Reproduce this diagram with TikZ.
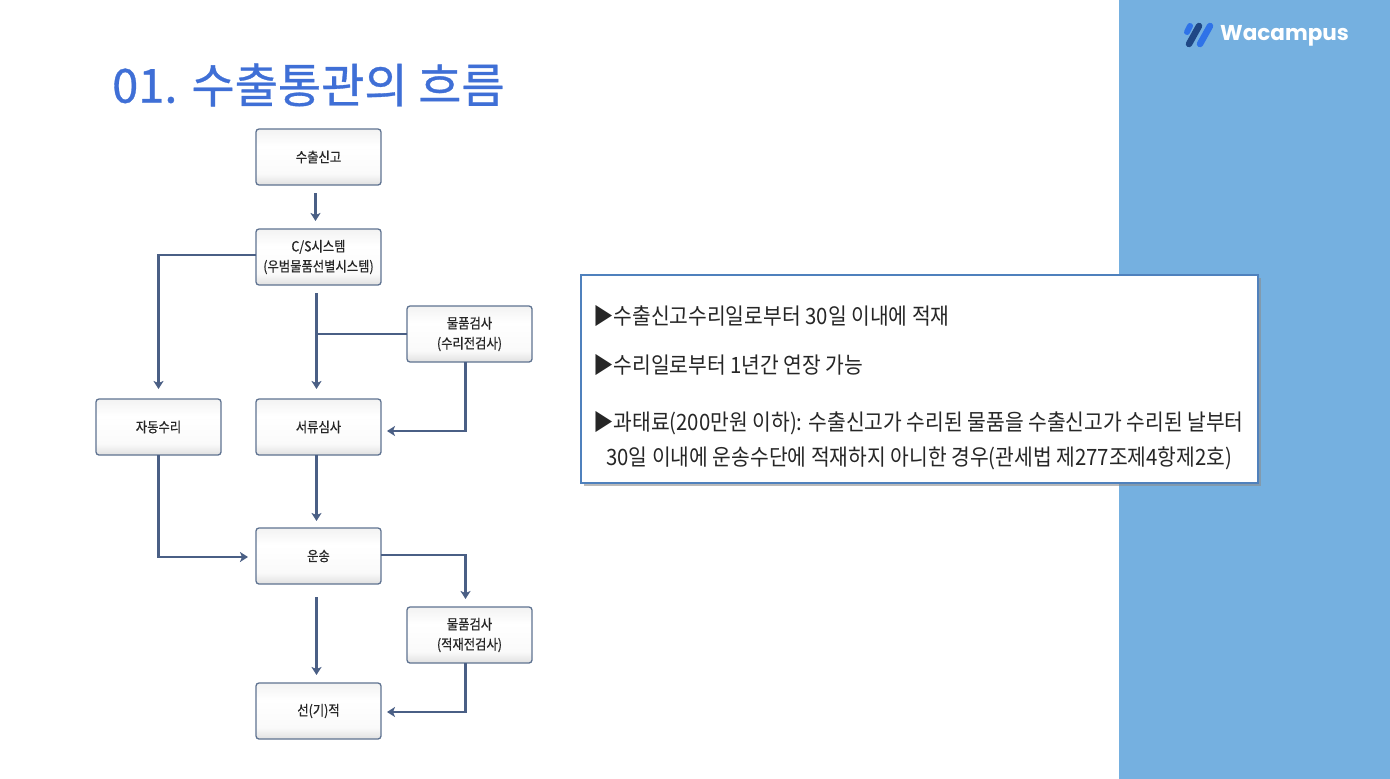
\documentclass[tikz,border=0pt]{standalone}
\usepackage{fontspec}
\setmainfont{Noto Sans CJK KR}
\newfontfamily\titlefont[FakeBold=0.7]{Noto Sans CJK KR}
\newfontfamily\boxfont[FakeStretch=0.88,FakeBold=0.5]{Noto Sans CJK KR}
\newfontfamily\notefont[FakeStretch=0.905]{Noto Sans CJK KR}
\newfontfamily\latinfont{Poppins}
\usetikzlibrary{positioning,arrows.meta,shadows,calc}
\definecolor{panelblue}{HTML}{75B0E0}
\definecolor{titleblue}{HTML}{3F6FD6}
\definecolor{flowline}{HTML}{4A5F85}
\definecolor{boxedge}{HTML}{5F7391}
\definecolor{noteedge}{HTML}{4F81BD}
\definecolor{logonavy}{HTML}{1F4785}
\definecolor{logoblue}{HTML}{2F73E8}
\pgfdeclareverticalshading{flowshade}{100bp}{color(0bp)=(black!12); color(25bp)=(black!12); color(35bp)=(black!2); color(60bp)=(white); color(75bp)=(black!5); color(100bp)=(black!5)}
\tikzset{
  flowbox/.style={draw=boxedge, line width=1.3pt, rounded corners=3pt, shading=flowshade,
    minimum width=125pt, minimum height=56pt, inner sep=0pt, outer sep=0pt, align=center, font=\boxfont\fontsize{14}{20}\selectfont, text=black!85},
  flow/.style={draw=flowline, line width=2.2pt, -{Stealth[length=8pt,width=10pt,inset=2pt]}},
  flowplain/.style={draw=flowline, line width=2.2pt},
  noteline/.style={anchor=west, inner sep=0pt, font=\notefont\fontsize{22.5}{26}\selectfont, text=black!85},
}
\begin{document}
\begin{tikzpicture}[x=1pt, y=-1pt, node distance=44pt]
  \useasboundingbox (0,0) rectangle (1390,779);
  \fill[white] (0,0) rectangle (1390,779);
  \fill[panelblue] (1119,0) rectangle (1390,779);

  % Title and logo
  \node[anchor=west, inner sep=0pt, text=titleblue, font=\titlefont\fontsize{47}{52}\selectfont] (title) at (112,85) {01. 수출통관의 흐름};
  \node[anchor=west, inner sep=0pt, text=white, font=\latinfont\bfseries\fontsize{21.5}{26}\selectfont] (logo) at (1220,36) {Wacampus};
  \draw[logoblue, line width=6pt, line cap=round] (1190,26) -- (1187,32);
  \draw[logonavy, line width=6.5pt, line cap=round] (1199,26) -- (1189,44);
  \draw[logoblue, line width=6.5pt, line cap=round] (1210,26) -- (1200,44);

  % Nodes
  \node[flowbox] (report) at (318.5,157) {수출신고};
  \node[flowbox, below=of report] (cs) {C/S시스템\\(우범물품선별시스템)};
  \node[flowbox, below=114pt of cs] (docs) {서류심사};
  \node[flowbox, left=35pt of docs] (auto) {자동수리};
  \node[flowbox, right=26pt of docs, yshift=93pt] (check) {물품검사\\(수리전검사)};
  \node[flowbox, below=73pt of docs] (ship) {운송};
  \node[flowbox, right=26pt of ship, yshift=-79pt] (load) {물품검사\\(적재전검사)};
  \node[flowbox, below=99pt of ship] (board) {선(기)적};

  % Note box
  \node[draw=noteedge, line width=2pt, fill=white, drop shadow={shadow xshift=3pt, shadow yshift=-3pt, fill=black!45, opacity=0.6},
    minimum width=677pt, minimum height=208pt, inner sep=0pt, outer sep=0pt] (note) at (919,379) {};
  \node[noteline] (lineA) at (593,316) {▶수출신고수리일로부터 30일 이내에 적재};
  \node[noteline] (lineB) at (593,365) {▶수리일로부터 1년간 연장 가능};
  \node[noteline] (lineC) at (593,423) {▶과태료(200만원 이하): 수출신고가 수리된 물품을 수출신고가 수리된 날부터};
  \node[noteline] (lineD) at (606,458) {30일 이내에 운송수단에 적재하지 아니한 경우(관세법 제277조제4항제2호)};

  % Arrows
  \draw[flow, shorten <=8pt, shorten >=8pt] ([xshift=-3pt]report.south) -- ([xshift=-3pt]cs.north);
  \draw[flow, shorten >=10pt] ([yshift=2pt]cs.west) -| (auto.north);
  \draw[flow, shorten <=8pt, shorten >=10pt] ([xshift=-2pt]cs.south) -- ([xshift=-2pt]docs.north);
  \draw[flowplain] (check.west) -- ([xshift=-2pt]check.west -| docs.north);
  \draw[flow, shorten >=6pt] ([xshift=-4pt]check.south) |- ([yshift=-4pt]docs.east);
  \draw[flow, shorten >=7pt] ([xshift=-2pt]docs.south) -- ([xshift=-2pt]ship.north);
  \draw[flow, shorten >=8pt] (auto.south) |- ([yshift=-1pt]ship.west);
  \draw[flow, shorten >=8pt] ([yshift=1pt]ship.east) -| ([xshift=-4pt]load.north);
  \draw[flow, shorten <=13pt, shorten >=8pt] ([xshift=-2pt]ship.south) -- ([xshift=-2pt]board.north);
  \draw[flow, shorten >=6pt] ([xshift=-4pt]load.south) |- ([yshift=-1pt]board.east);
\end{tikzpicture}
\end{document}
